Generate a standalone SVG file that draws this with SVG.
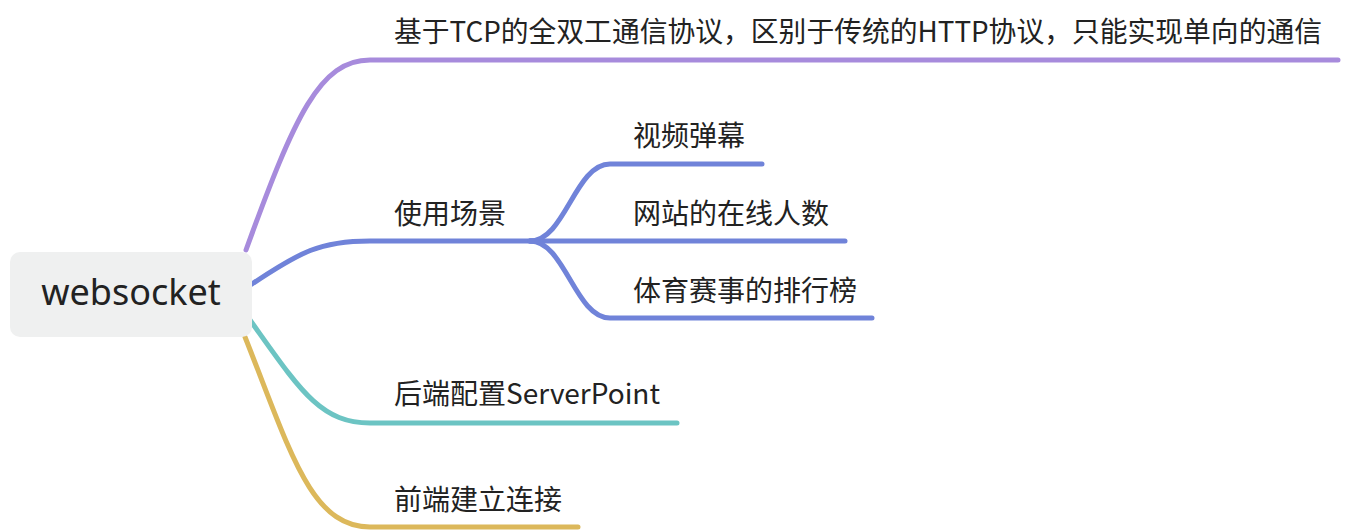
<svg xmlns="http://www.w3.org/2000/svg" width="1348" height="532" viewBox="0 0 1348 532">
<style>
.t{font-family:"Noto Sans CJK SC","Noto Sans",sans-serif;font-size:28px;fill:#222;}
.root{font-family:"Noto Sans","Noto Sans CJK SC",sans-serif;font-size:36px;fill:#222;}
.c{fill:none;stroke-width:5;stroke-linecap:round;}
</style>
<rect width="1348" height="532" fill="#ffffff"/>
<g id="connectors">
<path class="c" stroke="#a78bdc" d="M246,250 C295,115 320,60 370,60 L1338,60"/>
<path class="c" stroke="#7083d9" d="M252,284 C300,252 320,241 370,241 L540,241"/>
<path class="c" stroke="#7083d9" d="M530,241 C565,241 575,164 610,164 L762,164"/>
<path class="c" stroke="#7083d9" d="M530,241 L845,241"/>
<path class="c" stroke="#7083d9" d="M530,241 C565,241 575,318 610,318 L872,318"/>
<path class="c" stroke="#6cc4c3" d="M250,320 C300,390 320,423 370,423 L677,423"/>
<path class="c" stroke="#dcb85b" d="M245,337 C290,450 310,527 370,527 L578,527"/>
</g>
<g id="root">
<rect x="10" y="252" width="242" height="85" rx="10" fill="#eff0f0"/>
<text class="root" x="131" y="305" text-anchor="middle">websocket</text>
</g>
<g id="n1"><text class="t" x="394" y="42" textLength="928" lengthAdjust="spacingAndGlyphs">基于TCP的全双工通信协议，区别于传统的HTTP协议，只能实现单向的通信</text></g>
<g id="n2"><text class="t" x="394" y="224">使用场景</text></g>
<g id="n21"><text class="t" x="633" y="146">视频弹幕</text></g>
<g id="n22"><text class="t" x="633" y="224">网站的在线人数</text></g>
<g id="n23"><text class="t" x="633" y="301">体育赛事的排行榜</text></g>
<g id="n3"><text class="t" x="394" y="404">后端配置ServerPoint</text></g>
<g id="n4"><text class="t" x="394" y="510">前端建立连接</text></g>
</svg>
